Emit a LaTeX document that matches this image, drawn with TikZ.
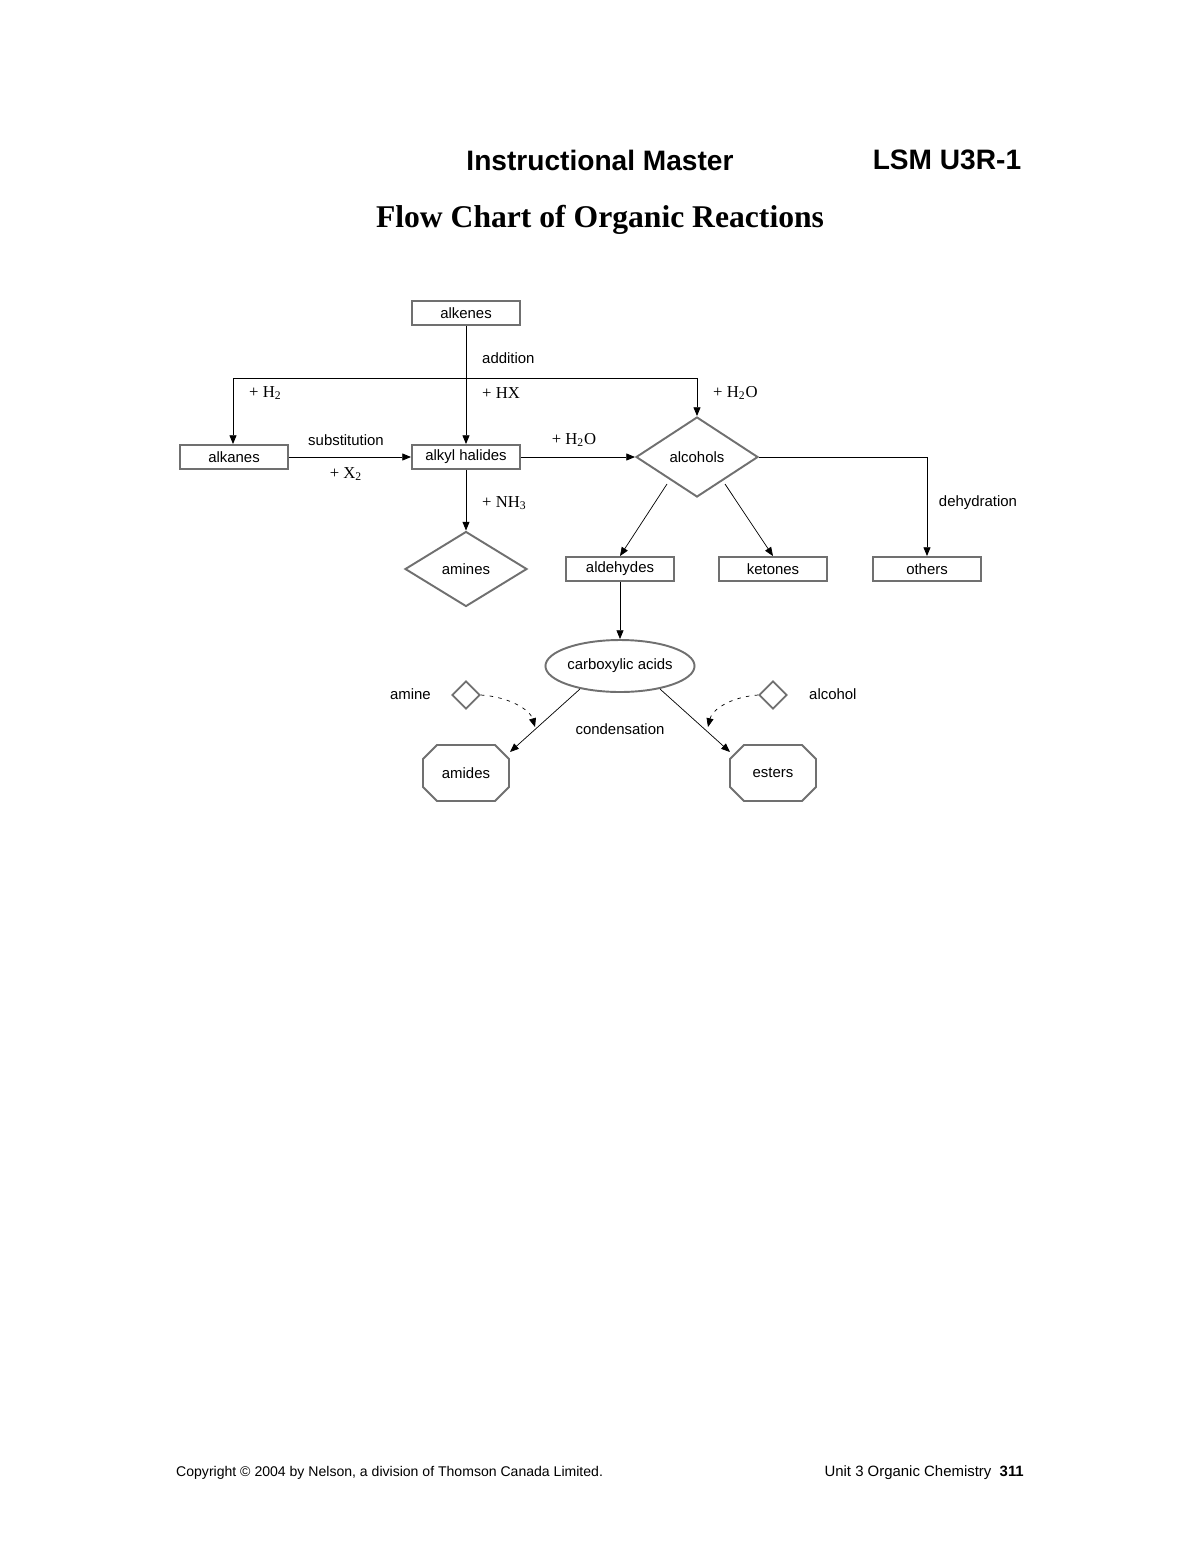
\documentclass[tikz,border=0pt]{standalone}
\usepackage{fontspec}
\setmainfont{Liberation Sans}
\newfontfamily\serf{Liberation Serif}
\usetikzlibrary{shapes.geometric,arrows.meta}
\definecolor{bord}{HTML}{707070}
\begin{document}
\begin{tikzpicture}[x=0.02cm,y=-0.02cm,
  txt/.style={font=\fontsize{8.5}{10}\selectfont},
  box/.style={txt,draw=bord,line width=1.1pt,minimum width=2.16cm,minimum height=0.48cm,inner sep=0pt},
  dia/.style={txt,draw=bord,line width=1.1pt,diamond,aspect=1.6,inner sep=0pt,minimum width=2.44cm,minimum height=1.5cm},
  oct/.style={txt,draw=bord,line width=1.1pt,regular polygon,regular polygon sides=8,inner sep=0pt,minimum size=1.75cm,xscale=1,shape border rotate=22.5},
  small/.style={draw=bord,line width=1pt,diamond,minimum size=0.56cm,inner sep=0pt},
  lab/.style={font=\serf\fontsize{9.5}{11}\selectfont},
  arr/.style={-{Triangle[length=5pt,width=4pt]},line width=0.5pt}]
\useasboundingbox (0,0) rectangle (1200,1553);
\node[font=\bfseries\fontsize{16}{18}\selectfont] (t1) at (600,160) {Instructional Master};
\node[font=\bfseries\fontsize{16}{18}\selectfont] (t2) at (947,160) {LSM U3R-1};
\node[font=\serf\bfseries\fontsize{18}{20}\selectfont] (t3) at (600,220) {Flow Chart of Organic Reactions};

\node[box] (alkenes) at (466,313) {alkenes};
\node[box] (alkanes) at (234,457) {alkanes};
\node[box] (halides) at (466,457) {alkyl halides};
\node[dia,minimum height=1.6cm] (alcohols) at (697,457) {alcohols};
\node[dia] (amines) at (466,569) {amines};
\node[box] (ald) at (620,569) {aldehydes};
\node[box] (ket) at (773,569) {ketones};
\node[box] (oth) at (927,569) {others};
\node[txt,draw=bord,line width=1.1pt,ellipse,minimum width=2.7cm,minimum height=1.04cm,inner sep=0pt] (carb) at (620,666) {carboxylic acids};
\node[oct,minimum size=1.2cm,draw=none] (amidesT) at (466,773) {};
\draw[draw=bord,line width=1.1pt] (423,759)--(437,745)--(495,745)--(509,759)--(509,787)--(495,801)--(437,801)--(423,787)--cycle;
\draw[draw=bord,line width=1.1pt] (730,759)--(744,745)--(802,745)--(816,759)--(816,787)--(802,801)--(744,801)--(730,787)--cycle;
\node[txt] (amides) at (466,773) {amides};
\node[txt] (esters) at (773,773) {esters};
\node[small] (dam) at (466,695) {};
\node[small] (dal) at (773,695) {};
\node[txt,anchor=east] (lam) at (437,694) {amine};
\node[txt,anchor=west] (lal) at (803,694) {alcohol};
\node[txt] (cond) at (620,729) {condensation};

\coordinate (jl) at (233,378);
\coordinate (jr) at (697,378);
\coordinate (jm) at (466,378);
\draw[line width=0.5pt] (jl)--(jr);
\draw[arr] (alkenes.south)--(halides.north);
\draw[arr] (jl)--(alkanes.north-|jl);
\draw[arr] (jr)--(alcohols.north);
\draw[arr] (alkanes)--(halides);
\draw[arr] (halides)--(alcohols);
\draw[arr] (halides)--(amines);
\coordinate (oc) at (927,457);
\draw[arr] (alcohols.east)--(oc)--(oth.north);
\draw[arr,line width=0.4pt] (667,484)--(ald.north);
\draw[arr,line width=0.4pt] (725,484)--(ket.north);
\draw[arr,line width=0.4pt] (ald.south)--(carb.north);
\coordinate (ea) at (510,752);
\coordinate (ee) at (730,752);
\draw[arr,line width=0.4pt] (580,689)--(ea);
\draw[arr,line width=0.4pt] (660,689)--(ee);
\draw[arr,line width=0.4pt,dash pattern=on 2pt off 3pt] (dam.east) .. controls (510,697) and (530,710) .. (535,727);
\draw[arr,line width=0.4pt,dash pattern=on 2pt off 3pt] (dal.west) .. controls (730,697) and (712,710) .. (708,727);

\node[txt,anchor=west] (addl) at (476,358) {addition};
\node[lab,anchor=west] (h2) at (243,393) {+ H\textsubscript{2}};
\node[lab,anchor=west] (hx) at (476,393) {+ HX};
\node[lab,anchor=west] (h2o) at (707,393) {+ H\textsubscript{2}O};
\node[txt] (subl) at (346,440) {substitution};
\node[lab] (x2) at (346,474) {+ X\textsubscript{2}};
\node[lab] (h2o2) at (574,440) {+ H\textsubscript{2}O};
\node[lab,anchor=west] (nh3) at (476,503) {+ NH\textsubscript{3}};
\node[txt] (dehy) at (978,503) {dehydration};

\node[font=\fontsize{8}{10}\selectfont,anchor=west] (copy) at (170,1473) {Copyright © 2004 by Nelson, a division of Thomson Canada Limited.};
\node[font=\fontsize{8.5}{10}\selectfont,anchor=east] (unit) at (1030,1473) {Unit 3 Organic Chemistry\ \ \textbf{311}};
\end{tikzpicture}
\end{document}
